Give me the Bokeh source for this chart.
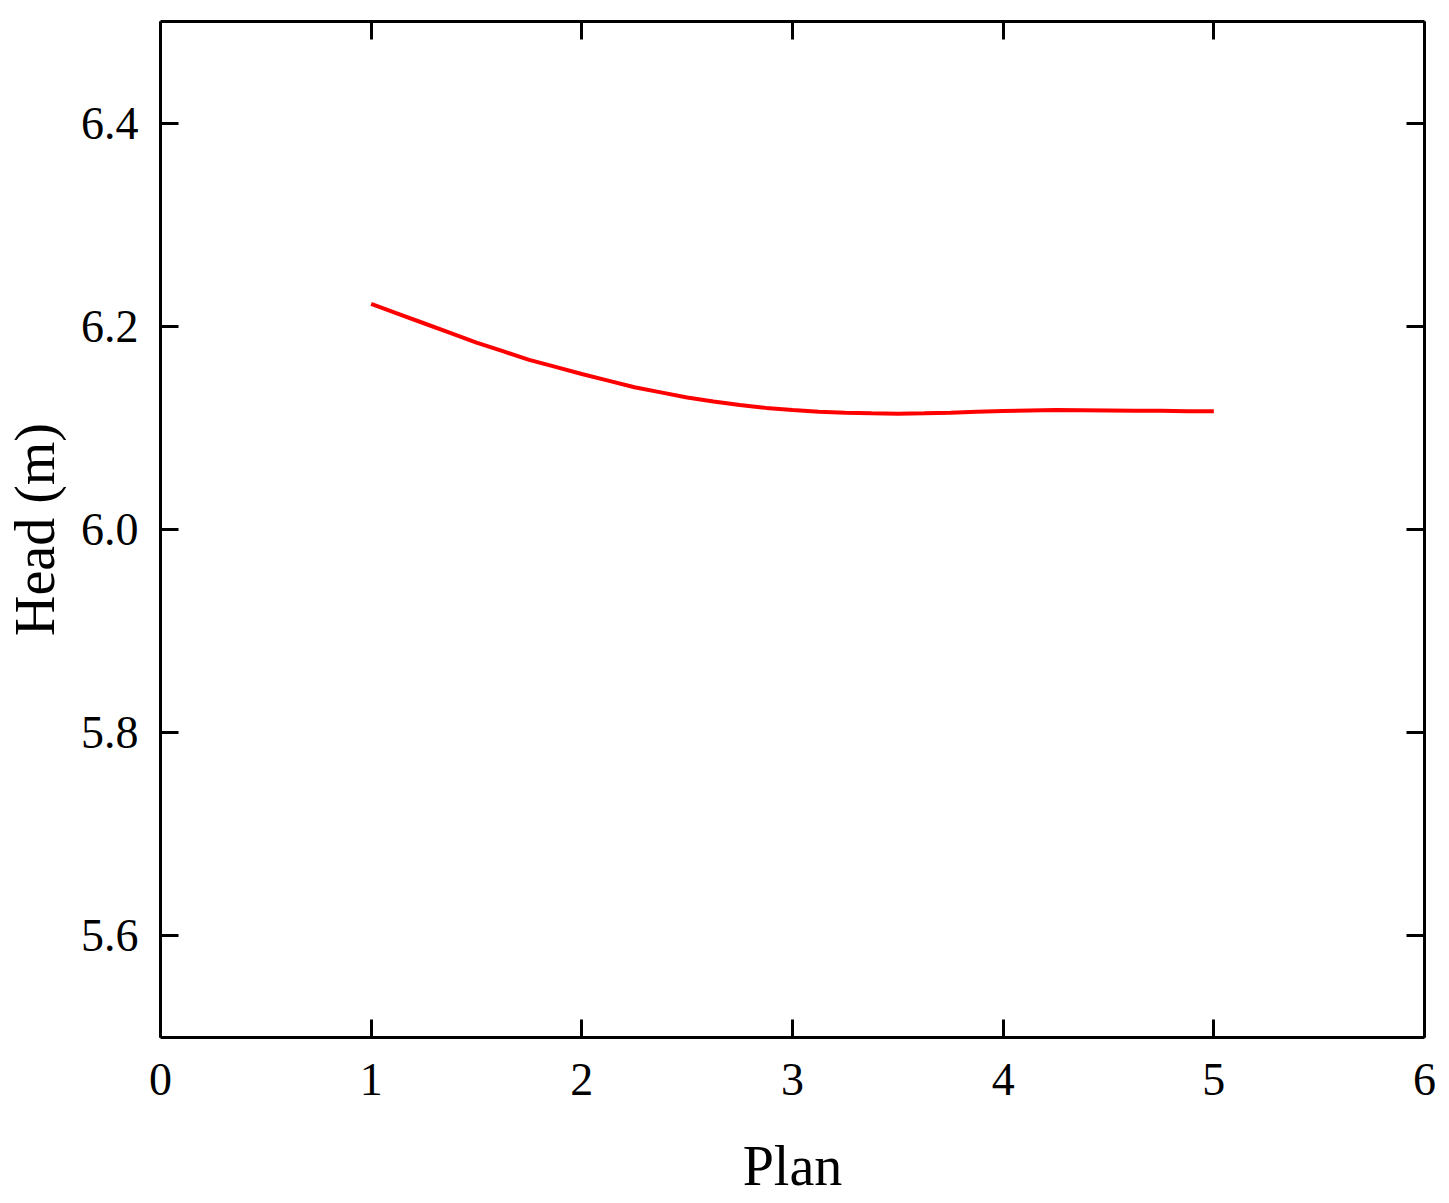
from bokeh.plotting import figure
from bokeh.models import LinearAxis, FixedTicker, PrintfTickFormatter, Range1d, CustomJSTickFormatter
from bokeh.embed import file_html
from bokeh.resources import INLINE

# Data
plan = [1.0, 1.125, 1.25, 1.375, 1.5, 1.625, 1.75, 1.875, 2.0, 2.125, 2.25, 2.375, 2.5,
        2.625, 2.75, 2.875, 3.0, 3.125, 3.25, 3.375, 3.5, 3.625, 3.75, 3.875, 4.0,
        4.125, 4.25, 4.375, 4.5, 4.625, 4.75, 4.875, 5.0]
head = [6.2220, 6.2125, 6.2030, 6.1935, 6.1840, 6.1755, 6.1670, 6.1600, 6.1530, 6.1465,
        6.1400, 6.1350, 6.1300, 6.1260, 6.1225, 6.1197, 6.1177, 6.1160, 6.1150, 6.1143,
        6.1140, 6.1143, 6.1150, 6.1160, 6.1167, 6.1172, 6.1175, 6.1174, 6.1172, 6.1170,
        6.1168, 6.1165, 6.1163]

x_ticks = [0, 1, 2, 3, 4, 5, 6]
y_ticks = [5.6, 5.8, 6.0, 6.2, 6.4]

FONT = "Liberation Serif"

p = figure(frame_width=1264, frame_height=1016,
           x_range=Range1d(0, 6), y_range=Range1d(5.5, 6.5),
           output_backend="svg", toolbar_location=None,
           x_axis_location=None, y_axis_location=None,
           min_border_left=153, min_border_top=21, min_border_right=24,
           min_border_bottom=160, background_fill_color="white",
           border_fill_color="white")
p.grid.visible = False
p.outline_line_color = None

def style(ax, ticks, labels=True):
    ax.ticker = FixedTicker(ticks=ticks)
    ax.axis_line_width = 3
    ax.axis_line_color = "black"
    ax.major_tick_line_width = 3
    ax.major_tick_line_color = "black"
    ax.major_tick_in = 18
    ax.major_tick_out = 0
    ax.minor_tick_line_color = None
    ax.major_label_text_font = FONT
    ax.major_label_text_color = "black"
    ax.axis_label_text_font = FONT
    ax.axis_label_text_font_style = "normal"
    ax.axis_label_text_color = "black"
    if labels:
        ax.major_label_text_font_size = "46px"
        ax.axis_label_text_font_size = "56px"
    else:
        ax.formatter = CustomJSTickFormatter(code="return '';")
        ax.major_label_text_font_size = "1px"
        ax.major_label_standoff = 0

xb = LinearAxis(axis_label="Plan")
style(xb, x_ticks)
xb.major_label_standoff = 26
xb.axis_label_standoff = 37
p.add_layout(xb, "below")

yl = LinearAxis(axis_label="Head (m)", formatter=PrintfTickFormatter(format="%.1f"))
style(yl, y_ticks)
yl.major_label_standoff = 22
yl.axis_label_standoff = 12
p.add_layout(yl, "left")

xt = LinearAxis()
style(xt, x_ticks, labels=False)
p.add_layout(xt, "above")

yr = LinearAxis()
style(yr, y_ticks, labels=False)
p.add_layout(yr, "right")

p.line(plan, head, line_color="#ff0000", line_width=4)

open("out.html", "w").write(file_html(p, INLINE))
